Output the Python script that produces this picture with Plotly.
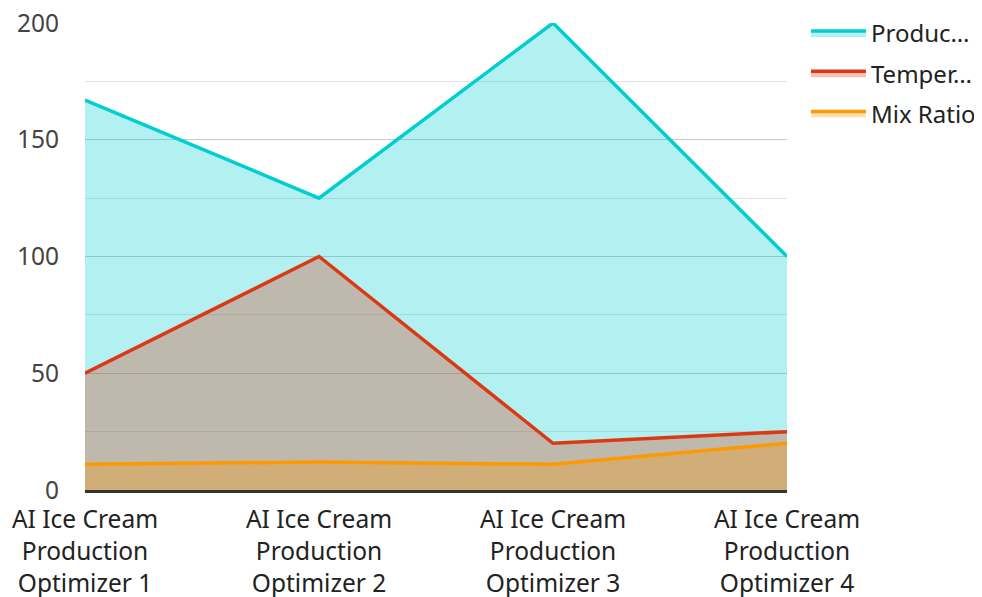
import plotly.graph_objects as go

categories = ["AI Ice Cream<br>Production<br>Optimizer 1", "AI Ice Cream<br>Production<br>Optimizer 2",
              "AI Ice Cream<br>Production<br>Optimizer 3", "AI Ice Cream<br>Production<br>Optimizer 4"]
series_names = ["Produc…", "Temper…", "Mix Ratio"]
production = [167, 125, 200, 100]
temperature = [50, 100, 20, 25]
mix_ratio = [11, 12, 11, 20]
y_ticks = [0, 50, 100, 150, 200]

line_colors = ["#00CED1", "#DC3912", "#FF9900"]
fill_colors = ["rgba(0,206,209,0.3)", "rgba(220,57,18,0.3)", "rgba(255,153,0,0.3)"]

fig = go.Figure()
for name, vals, lc, fc in zip(series_names, [production, temperature, mix_ratio], line_colors, fill_colors):
    fig.add_trace(go.Scatter(x=categories, y=vals, name=name, mode="lines", fill="tozeroy",
                             legendgroup=name,
                             line=dict(color=lc, width=3.5), fillcolor=fc))

font = "Noto Sans, Open Sans, sans-serif"
fig.update_layout(
    width=974, height=589,
    margin=dict(l=77, r=195, t=15, b=107, autoexpand=False),
    paper_bgcolor="white", plot_bgcolor="white",
    font=dict(family=font, size=24.5, color="#444"),
    showlegend=True,
    legend=dict(x=1.027, y=1.0257, xanchor="left", yanchor="top", font=dict(size=24, color="#222"),
                bgcolor="rgba(0,0,0,0)", borderwidth=0,
                tracegroupgap=6, itemwidth=55, traceorder="grouped"),
    xaxis=dict(range=[0, 3], showgrid=False, showline=True, linecolor="#333", linewidth=3,
               ticks="", tickfont=dict(size=24.5, color="#222"), zeroline=False, automargin=False,
               ticklabelstandoff=6, ticklabeloverflow="allow"),
    yaxis=dict(range=[0, 200], tickvals=y_ticks, showgrid=True, gridcolor="#c8c8c8", gridwidth=1,
               zeroline=False, showline=False, ticks="", tickfont=dict(size=24.5, color="#444"),
               automargin=False, ticklabelstandoff=25, ticklabeloverflow="allow",
               minor=dict(dtick=25, tick0=0, showgrid=True, gridcolor="#e2e2e2", gridwidth=1)),
)
fig.write_html("out.html")
